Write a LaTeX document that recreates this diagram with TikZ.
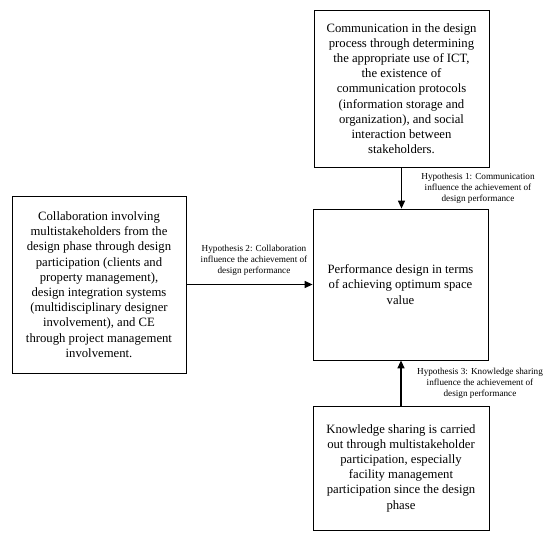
\documentclass[tikz,border=0pt]{standalone}
\usepackage{fontspec}
\setmainfont{Liberation Serif}
\usetikzlibrary{arrows.meta}
\begin{document}
\begin{tikzpicture}[x=1pt,y=1pt,
  boxnode/.style={draw, line width=0.8pt, align=center, inner sep=0pt,
    font=\fontsize{12.7}{15.2}\selectfont},
  hyp/.style={align=center, inner sep=0pt, font=\fontsize{9.2}{11}\selectfont},
  arr/.style={line width=1.3pt, -{Triangle[length=8pt,width=7pt]}}]
\useasboundingbox (0,0) rectangle (550,541);
\node[boxnode, minimum width=175pt, minimum height=157pt] (top) at (401.5,452.5)
 {Communication in the design\\ process through determining\\ the appropriate use of ICT,\\ the existence of\\ communication protocols\\ (information storage and\\ organization), and social\\ interaction between\\ stakeholders.};
\node[boxnode, minimum width=174pt, minimum height=177pt] (lft) at (99,256.5)
 {Collaboration involving\\ multistakeholders from the\\ design phase through design\\ participation (clients and\\ property management),\\ design integration systems\\ (multidisciplinary designer\\ involvement), and CE\\ through project management\\ involvement.};
\node[boxnode, minimum width=175pt, minimum height=151pt] (ctr) at (400.5,256.5)
 {Performance design in terms\\ of achieving optimum space\\ value};
\node[boxnode, minimum width=176pt, minimum height=124pt] (bot) at (401,73)
 {Knowledge sharing is carried\\ out through multistakeholder\\ participation, especially\\ facility management\\ participation since the design\\ phase};
\draw[arr] (top.south) -- (top.south |- ctr.north);
\draw[arr] (lft.east) -- (ctr.west);
\draw[arr] (bot.north) -- (bot.north |- ctr.south);
\node[hyp] (h1) at (478,353) {Hypothesis 1: Communication\\ influence the achievement of\\ design performance};
\node[hyp] (h2) at (254,281) {Hypothesis 2: Collaboration\\ influence the achievement of\\ design performance};
\node[hyp] (h3) at (480,158) {Hypothesis 3: Knowledge sharing\\ influence the achievement of\\ design performance};
\end{tikzpicture}
\end{document}
